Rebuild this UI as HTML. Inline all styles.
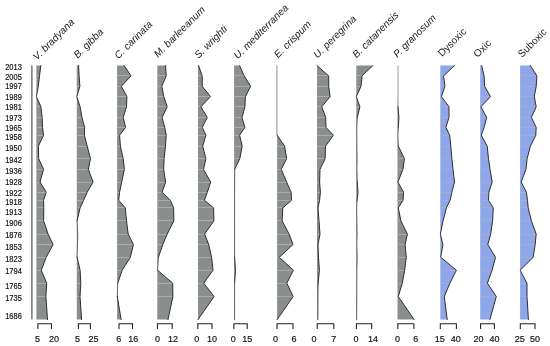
<!DOCTYPE html><html><head><meta charset="utf-8"><title>Foraminifera stratigraphy</title>
<style>html,body{margin:0;padding:0;background:#fff}body{width:550px;height:346px;overflow:hidden}svg{display:block}text{font-family:"Liberation Sans",Arial,sans-serif;fill:#1a1a1a}</style></head><body>
<svg width="550" height="346" viewBox="0 0 550 346">
<rect width="550" height="346" fill="#fff"/>
<line x1="31.9" y1="65.5" x2="31.9" y2="319.2" stroke="#444" stroke-width="1.1"/>
<text x="5.2" y="69.5" font-size="8.4" textLength="16.6" lengthAdjust="spacingAndGlyphs" stroke="#111" stroke-width="0.2">2013</text>
<text x="5.2" y="79.6" font-size="8.4" textLength="16.6" lengthAdjust="spacingAndGlyphs" stroke="#111" stroke-width="0.2">2005</text>
<text x="5.2" y="89.3" font-size="8.4" textLength="16.6" lengthAdjust="spacingAndGlyphs" stroke="#111" stroke-width="0.2">1997</text>
<text x="5.2" y="99.6" font-size="8.4" textLength="16.6" lengthAdjust="spacingAndGlyphs" stroke="#111" stroke-width="0.2">1989</text>
<text x="5.2" y="110.0" font-size="8.4" textLength="16.6" lengthAdjust="spacingAndGlyphs" stroke="#111" stroke-width="0.2">1981</text>
<text x="5.2" y="121.0" font-size="8.4" textLength="16.6" lengthAdjust="spacingAndGlyphs" stroke="#111" stroke-width="0.2">1973</text>
<text x="5.2" y="130.7" font-size="8.4" textLength="16.6" lengthAdjust="spacingAndGlyphs" stroke="#111" stroke-width="0.2">1965</text>
<text x="5.2" y="139.5" font-size="8.4" textLength="16.6" lengthAdjust="spacingAndGlyphs" stroke="#111" stroke-width="0.2">1958</text>
<text x="5.2" y="150.7" font-size="8.4" textLength="16.6" lengthAdjust="spacingAndGlyphs" stroke="#111" stroke-width="0.2">1950</text>
<text x="5.2" y="162.8" font-size="8.4" textLength="16.6" lengthAdjust="spacingAndGlyphs" stroke="#111" stroke-width="0.2">1942</text>
<text x="5.2" y="173.8" font-size="8.4" textLength="16.6" lengthAdjust="spacingAndGlyphs" stroke="#111" stroke-width="0.2">1936</text>
<text x="5.2" y="184.8" font-size="8.4" textLength="16.6" lengthAdjust="spacingAndGlyphs" stroke="#111" stroke-width="0.2">1928</text>
<text x="5.2" y="195.7" font-size="8.4" textLength="16.6" lengthAdjust="spacingAndGlyphs" stroke="#111" stroke-width="0.2">1922</text>
<text x="5.2" y="205.1" font-size="8.4" textLength="16.6" lengthAdjust="spacingAndGlyphs" stroke="#111" stroke-width="0.2">1918</text>
<text x="5.2" y="215.2" font-size="8.4" textLength="16.6" lengthAdjust="spacingAndGlyphs" stroke="#111" stroke-width="0.2">1913</text>
<text x="5.2" y="225.5" font-size="8.4" textLength="16.6" lengthAdjust="spacingAndGlyphs" stroke="#111" stroke-width="0.2">1906</text>
<text x="5.2" y="238.3" font-size="8.4" textLength="16.6" lengthAdjust="spacingAndGlyphs" stroke="#111" stroke-width="0.2">1876</text>
<text x="5.2" y="250.1" font-size="8.4" textLength="16.6" lengthAdjust="spacingAndGlyphs" stroke="#111" stroke-width="0.2">1853</text>
<text x="5.2" y="262.4" font-size="8.4" textLength="16.6" lengthAdjust="spacingAndGlyphs" stroke="#111" stroke-width="0.2">1823</text>
<text x="5.2" y="274.4" font-size="8.4" textLength="16.6" lengthAdjust="spacingAndGlyphs" stroke="#111" stroke-width="0.2">1794</text>
<text x="5.2" y="288.6" font-size="8.4" textLength="16.6" lengthAdjust="spacingAndGlyphs" stroke="#111" stroke-width="0.2">1765</text>
<text x="5.2" y="301.0" font-size="8.4" textLength="16.6" lengthAdjust="spacingAndGlyphs" stroke="#111" stroke-width="0.2">1735</text>
<text x="5.2" y="319.0" font-size="8.4" textLength="16.6" lengthAdjust="spacingAndGlyphs" stroke="#111" stroke-width="0.2">1686</text>
<g>
<path d="M36.4,65.6 L40.8,65.6 L39.5,75.9 L38.3,86.3 L36.4,96.6 L40.9,106.8 L42.2,117.5 L42.5,127.4 L43.6,135.2 L38.4,146.1 L38.7,158.7 L43.6,169.3 L40.0,182.0 L46.2,192.2 L43.6,200.3 L43.8,207.9 L43.6,220.8 L48.1,234.1 L53.1,244.5 L46.2,257.3 L41.3,270.2 L46.7,283.2 L45.9,296.5 L47.5,319.6 L36.4,319.6 Z" fill="#8a8f8e"/>
<line x1="36.4" y1="75.5" x2="39.0" y2="75.5" stroke="#a8adac" stroke-width="1"/>
<line x1="36.4" y1="86.5" x2="37.8" y2="86.5" stroke="#a8adac" stroke-width="1"/>
<line x1="36.4" y1="106.5" x2="40.4" y2="106.5" stroke="#a8adac" stroke-width="1"/>
<line x1="36.4" y1="117.5" x2="41.7" y2="117.5" stroke="#a8adac" stroke-width="1"/>
<line x1="36.4" y1="127.5" x2="42.0" y2="127.5" stroke="#a8adac" stroke-width="1"/>
<line x1="36.4" y1="135.5" x2="43.1" y2="135.5" stroke="#a8adac" stroke-width="1"/>
<line x1="36.4" y1="146.5" x2="37.9" y2="146.5" stroke="#a8adac" stroke-width="1"/>
<line x1="36.4" y1="158.5" x2="38.2" y2="158.5" stroke="#a8adac" stroke-width="1"/>
<line x1="36.4" y1="169.5" x2="43.1" y2="169.5" stroke="#a8adac" stroke-width="1"/>
<line x1="36.4" y1="182.5" x2="39.5" y2="182.5" stroke="#a8adac" stroke-width="1"/>
<line x1="36.4" y1="192.5" x2="45.7" y2="192.5" stroke="#a8adac" stroke-width="1"/>
<line x1="36.4" y1="200.5" x2="43.1" y2="200.5" stroke="#a8adac" stroke-width="1"/>
<line x1="36.4" y1="207.5" x2="43.3" y2="207.5" stroke="#a8adac" stroke-width="1"/>
<line x1="36.4" y1="220.5" x2="43.1" y2="220.5" stroke="#a8adac" stroke-width="1"/>
<line x1="36.4" y1="234.5" x2="47.6" y2="234.5" stroke="#a8adac" stroke-width="1"/>
<line x1="36.4" y1="244.5" x2="52.6" y2="244.5" stroke="#a8adac" stroke-width="1"/>
<line x1="36.4" y1="257.5" x2="45.7" y2="257.5" stroke="#a8adac" stroke-width="1"/>
<line x1="36.4" y1="270.5" x2="40.8" y2="270.5" stroke="#a8adac" stroke-width="1"/>
<line x1="36.4" y1="283.5" x2="46.2" y2="283.5" stroke="#a8adac" stroke-width="1"/>
<line x1="36.4" y1="296.5" x2="45.4" y2="296.5" stroke="#a8adac" stroke-width="1"/>
<path d="M40.8,65.6 L39.5,75.9 L38.3,86.3 L36.4,96.6 L40.9,106.8 L42.2,117.5 L42.5,127.4 L43.6,135.2 L38.4,146.1 L38.7,158.7 L43.6,169.3 L40.0,182.0 L46.2,192.2 L43.6,200.3 L43.8,207.9 L43.6,220.8 L48.1,234.1 L53.1,244.5 L46.2,257.3 L41.3,270.2 L46.7,283.2 L45.9,296.5 L47.5,319.6" fill="none" stroke="#2e2e2e" stroke-width="1.0" stroke-linejoin="round" stroke-linecap="round"/>
<path d="M37.9,329 V323.8 H51.5 V329" fill="none" stroke="#222" stroke-width="1.1"/>
<text x="37.4" y="342" font-size="9.0" text-anchor="middle" stroke="#111" stroke-width="0.2">5</text>
<text x="54.0" y="342" font-size="9.0" text-anchor="middle" stroke="#111" stroke-width="0.2">20</text>
<text transform="translate(37.0,60.7) rotate(-45)" font-size="10.1" font-style="italic">V. bradyana</text>
</g>
<g>
<path d="M76.8,65.6 L78.6,65.6 L79.1,75.9 L79.9,86.3 L76.8,96.6 L80.1,106.8 L82.0,117.5 L84.6,127.4 L84.4,135.2 L87.2,146.1 L90.5,158.7 L88.3,169.3 L93.1,182.0 L87.2,192.2 L83.6,200.3 L80.1,207.9 L77.1,220.8 L77.8,234.1 L77.5,244.5 L77.1,257.3 L80.1,270.2 L80.8,283.2 L80.0,296.5 L81.6,319.6 L76.8,319.6 Z" fill="#8a8f8e"/>
<line x1="76.8" y1="75.5" x2="78.6" y2="75.5" stroke="#a8adac" stroke-width="1"/>
<line x1="76.8" y1="86.5" x2="79.4" y2="86.5" stroke="#a8adac" stroke-width="1"/>
<line x1="76.8" y1="106.5" x2="79.6" y2="106.5" stroke="#a8adac" stroke-width="1"/>
<line x1="76.8" y1="117.5" x2="81.5" y2="117.5" stroke="#a8adac" stroke-width="1"/>
<line x1="76.8" y1="127.5" x2="84.1" y2="127.5" stroke="#a8adac" stroke-width="1"/>
<line x1="76.8" y1="135.5" x2="83.9" y2="135.5" stroke="#a8adac" stroke-width="1"/>
<line x1="76.8" y1="146.5" x2="86.7" y2="146.5" stroke="#a8adac" stroke-width="1"/>
<line x1="76.8" y1="158.5" x2="90.0" y2="158.5" stroke="#a8adac" stroke-width="1"/>
<line x1="76.8" y1="169.5" x2="87.8" y2="169.5" stroke="#a8adac" stroke-width="1"/>
<line x1="76.8" y1="182.5" x2="92.6" y2="182.5" stroke="#a8adac" stroke-width="1"/>
<line x1="76.8" y1="192.5" x2="86.7" y2="192.5" stroke="#a8adac" stroke-width="1"/>
<line x1="76.8" y1="200.5" x2="83.1" y2="200.5" stroke="#a8adac" stroke-width="1"/>
<line x1="76.8" y1="207.5" x2="79.6" y2="207.5" stroke="#a8adac" stroke-width="1"/>
<line x1="76.8" y1="270.5" x2="79.6" y2="270.5" stroke="#a8adac" stroke-width="1"/>
<line x1="76.8" y1="283.5" x2="80.3" y2="283.5" stroke="#a8adac" stroke-width="1"/>
<line x1="76.8" y1="296.5" x2="79.5" y2="296.5" stroke="#a8adac" stroke-width="1"/>
<path d="M78.6,65.6 L79.1,75.9 L79.9,86.3 L76.8,96.6 L80.1,106.8 L82.0,117.5 L84.6,127.4 L84.4,135.2 L87.2,146.1 L90.5,158.7 L88.3,169.3 L93.1,182.0 L87.2,192.2 L83.6,200.3 L80.1,207.9 L77.1,220.8" fill="none" stroke="#2e2e2e" stroke-width="1.0" stroke-linejoin="round" stroke-linecap="round"/>
<path d="M77.1,220.8 L77.8,234.1 L77.5,244.5 L77.1,257.3" fill="none" stroke="#505050" stroke-width="0.85" stroke-linejoin="round" stroke-linecap="round"/>
<path d="M77.1,257.3 L80.1,270.2 L80.8,283.2 L80.0,296.5 L81.6,319.6" fill="none" stroke="#2e2e2e" stroke-width="1.0" stroke-linejoin="round" stroke-linecap="round"/>
<path d="M78.4,329 V323.8 H90.4 V329" fill="none" stroke="#222" stroke-width="1.1"/>
<text x="77.6" y="342" font-size="9.0" text-anchor="middle" stroke="#111" stroke-width="0.2">5</text>
<text x="93.6" y="342" font-size="9.0" text-anchor="middle" stroke="#111" stroke-width="0.2">25</text>
<text transform="translate(77.8,58.8) rotate(-45)" font-size="10.1" font-style="italic">B. gibba</text>
</g>
<g>
<path d="M117.1,65.6 L124.1,65.6 L131.0,75.9 L121.3,86.3 L126.9,96.6 L126.5,106.8 L123.2,117.5 L125.6,127.4 L119.6,135.2 L120.4,146.1 L123.2,158.7 L124.4,169.3 L121.7,182.0 L119.6,192.2 L118.7,200.3 L125.3,207.9 L126.5,220.8 L128.2,234.1 L133.4,244.5 L130.4,257.3 L122.2,270.2 L117.7,283.2 L117.3,296.5 L121.1,319.6 L117.1,319.6 Z" fill="#8a8f8e"/>
<line x1="117.1" y1="75.5" x2="130.5" y2="75.5" stroke="#a8adac" stroke-width="1"/>
<line x1="117.1" y1="86.5" x2="120.8" y2="86.5" stroke="#a8adac" stroke-width="1"/>
<line x1="117.1" y1="96.5" x2="126.4" y2="96.5" stroke="#a8adac" stroke-width="1"/>
<line x1="117.1" y1="106.5" x2="126.0" y2="106.5" stroke="#a8adac" stroke-width="1"/>
<line x1="117.1" y1="117.5" x2="122.7" y2="117.5" stroke="#a8adac" stroke-width="1"/>
<line x1="117.1" y1="127.5" x2="125.1" y2="127.5" stroke="#a8adac" stroke-width="1"/>
<line x1="117.1" y1="135.5" x2="119.1" y2="135.5" stroke="#a8adac" stroke-width="1"/>
<line x1="117.1" y1="146.5" x2="119.9" y2="146.5" stroke="#a8adac" stroke-width="1"/>
<line x1="117.1" y1="158.5" x2="122.7" y2="158.5" stroke="#a8adac" stroke-width="1"/>
<line x1="117.1" y1="169.5" x2="123.9" y2="169.5" stroke="#a8adac" stroke-width="1"/>
<line x1="117.1" y1="182.5" x2="121.2" y2="182.5" stroke="#a8adac" stroke-width="1"/>
<line x1="117.1" y1="192.5" x2="119.1" y2="192.5" stroke="#a8adac" stroke-width="1"/>
<line x1="117.1" y1="200.5" x2="118.2" y2="200.5" stroke="#a8adac" stroke-width="1"/>
<line x1="117.1" y1="207.5" x2="124.8" y2="207.5" stroke="#a8adac" stroke-width="1"/>
<line x1="117.1" y1="220.5" x2="126.0" y2="220.5" stroke="#a8adac" stroke-width="1"/>
<line x1="117.1" y1="234.5" x2="127.7" y2="234.5" stroke="#a8adac" stroke-width="1"/>
<line x1="117.1" y1="244.5" x2="132.9" y2="244.5" stroke="#a8adac" stroke-width="1"/>
<line x1="117.1" y1="257.5" x2="129.9" y2="257.5" stroke="#a8adac" stroke-width="1"/>
<line x1="117.1" y1="270.5" x2="121.7" y2="270.5" stroke="#a8adac" stroke-width="1"/>
<path d="M124.1,65.6 L131.0,75.9 L121.3,86.3 L126.9,96.6 L126.5,106.8 L123.2,117.5 L125.6,127.4 L119.6,135.2 L120.4,146.1 L123.2,158.7 L124.4,169.3 L121.7,182.0 L119.6,192.2 L118.7,200.3 L125.3,207.9 L126.5,220.8 L128.2,234.1 L133.4,244.5 L130.4,257.3 L122.2,270.2 L117.7,283.2" fill="none" stroke="#2e2e2e" stroke-width="1.0" stroke-linejoin="round" stroke-linecap="round"/>
<path d="M117.7,283.2 L117.3,296.5" fill="none" stroke="#505050" stroke-width="0.85" stroke-linejoin="round" stroke-linecap="round"/>
<path d="M117.3,296.5 L121.1,319.6" fill="none" stroke="#2e2e2e" stroke-width="1.0" stroke-linejoin="round" stroke-linecap="round"/>
<path d="M119.0,329 V323.8 H132.5 V329" fill="none" stroke="#222" stroke-width="1.1"/>
<text x="118.7" y="342" font-size="9.0" text-anchor="middle" stroke="#111" stroke-width="0.2">6</text>
<text x="133.2" y="342" font-size="9.0" text-anchor="middle" stroke="#111" stroke-width="0.2">16</text>
<text transform="translate(118.4,59.5) rotate(-45)" font-size="10.1" font-style="italic">C. carinata</text>
</g>
<g>
<path d="M157.3,65.6 L165.6,65.6 L166.2,75.9 L161.8,86.3 L163.8,96.6 L167.2,106.8 L162.1,117.5 L164.7,127.4 L166.2,135.2 L165.5,146.1 L164.1,158.7 L163.7,169.3 L165.6,182.0 L162.2,192.2 L170.4,200.3 L173.6,207.9 L173.9,220.8 L167.2,234.1 L162.8,244.5 L158.4,257.3 L157.6,270.2 L172.7,283.2 L172.9,296.5 L168.0,319.6 L157.3,319.6 Z" fill="#8a8f8e"/>
<line x1="157.3" y1="75.5" x2="165.7" y2="75.5" stroke="#a8adac" stroke-width="1"/>
<line x1="157.3" y1="86.5" x2="161.3" y2="86.5" stroke="#a8adac" stroke-width="1"/>
<line x1="157.3" y1="96.5" x2="163.3" y2="96.5" stroke="#a8adac" stroke-width="1"/>
<line x1="157.3" y1="106.5" x2="166.7" y2="106.5" stroke="#a8adac" stroke-width="1"/>
<line x1="157.3" y1="117.5" x2="161.6" y2="117.5" stroke="#a8adac" stroke-width="1"/>
<line x1="157.3" y1="127.5" x2="164.2" y2="127.5" stroke="#a8adac" stroke-width="1"/>
<line x1="157.3" y1="135.5" x2="165.7" y2="135.5" stroke="#a8adac" stroke-width="1"/>
<line x1="157.3" y1="146.5" x2="165.0" y2="146.5" stroke="#a8adac" stroke-width="1"/>
<line x1="157.3" y1="158.5" x2="163.6" y2="158.5" stroke="#a8adac" stroke-width="1"/>
<line x1="157.3" y1="169.5" x2="163.2" y2="169.5" stroke="#a8adac" stroke-width="1"/>
<line x1="157.3" y1="182.5" x2="165.1" y2="182.5" stroke="#a8adac" stroke-width="1"/>
<line x1="157.3" y1="192.5" x2="161.7" y2="192.5" stroke="#a8adac" stroke-width="1"/>
<line x1="157.3" y1="200.5" x2="169.9" y2="200.5" stroke="#a8adac" stroke-width="1"/>
<line x1="157.3" y1="207.5" x2="173.1" y2="207.5" stroke="#a8adac" stroke-width="1"/>
<line x1="157.3" y1="220.5" x2="173.4" y2="220.5" stroke="#a8adac" stroke-width="1"/>
<line x1="157.3" y1="234.5" x2="166.7" y2="234.5" stroke="#a8adac" stroke-width="1"/>
<line x1="157.3" y1="244.5" x2="162.3" y2="244.5" stroke="#a8adac" stroke-width="1"/>
<line x1="157.3" y1="283.5" x2="172.2" y2="283.5" stroke="#a8adac" stroke-width="1"/>
<line x1="157.3" y1="296.5" x2="172.4" y2="296.5" stroke="#a8adac" stroke-width="1"/>
<path d="M165.6,65.6 L166.2,75.9 L161.8,86.3 L163.8,96.6 L167.2,106.8 L162.1,117.5 L164.7,127.4 L166.2,135.2 L165.5,146.1 L164.1,158.7 L163.7,169.3 L165.6,182.0 L162.2,192.2 L170.4,200.3 L173.6,207.9 L173.9,220.8 L167.2,234.1 L162.8,244.5 L158.4,257.3" fill="none" stroke="#2e2e2e" stroke-width="1.0" stroke-linejoin="round" stroke-linecap="round"/>
<path d="M158.4,257.3 L157.6,270.2" fill="none" stroke="#505050" stroke-width="0.85" stroke-linejoin="round" stroke-linecap="round"/>
<path d="M157.6,270.2 L172.7,283.2 L172.9,296.5 L168.0,319.6" fill="none" stroke="#2e2e2e" stroke-width="1.0" stroke-linejoin="round" stroke-linecap="round"/>
<path d="M157.5,329 V323.8 H172.2 V329" fill="none" stroke="#222" stroke-width="1.1"/>
<text x="157.5" y="342" font-size="9.0" text-anchor="middle" stroke="#111" stroke-width="0.2">0</text>
<text x="173.0" y="342" font-size="9.0" text-anchor="middle" stroke="#111" stroke-width="0.2">12</text>
<text transform="translate(158.0,58.0) rotate(-45)" font-size="10.1" font-style="italic">M. barleeanum</text>
</g>
<g>
<path d="M198.0,65.6 L198.6,65.6 L202.2,75.9 L202.2,86.3 L210.5,96.6 L200.9,106.8 L207.3,117.5 L202.3,127.4 L205.9,135.2 L202.7,146.1 L205.9,158.7 L203.5,169.3 L210.7,182.0 L207.3,192.2 L204.4,200.3 L213.6,207.9 L213.9,220.8 L204.6,234.1 L208.7,244.5 L211.6,257.3 L213.0,270.2 L203.7,283.2 L214.1,296.5 L198.0,319.6 L198.0,319.6 Z" fill="#8a8f8e"/>
<line x1="198.0" y1="75.5" x2="201.7" y2="75.5" stroke="#a8adac" stroke-width="1"/>
<line x1="198.0" y1="86.5" x2="201.7" y2="86.5" stroke="#a8adac" stroke-width="1"/>
<line x1="198.0" y1="96.5" x2="210.0" y2="96.5" stroke="#a8adac" stroke-width="1"/>
<line x1="198.0" y1="106.5" x2="200.4" y2="106.5" stroke="#a8adac" stroke-width="1"/>
<line x1="198.0" y1="117.5" x2="206.8" y2="117.5" stroke="#a8adac" stroke-width="1"/>
<line x1="198.0" y1="127.5" x2="201.8" y2="127.5" stroke="#a8adac" stroke-width="1"/>
<line x1="198.0" y1="135.5" x2="205.4" y2="135.5" stroke="#a8adac" stroke-width="1"/>
<line x1="198.0" y1="146.5" x2="202.2" y2="146.5" stroke="#a8adac" stroke-width="1"/>
<line x1="198.0" y1="158.5" x2="205.4" y2="158.5" stroke="#a8adac" stroke-width="1"/>
<line x1="198.0" y1="169.5" x2="203.0" y2="169.5" stroke="#a8adac" stroke-width="1"/>
<line x1="198.0" y1="182.5" x2="210.2" y2="182.5" stroke="#a8adac" stroke-width="1"/>
<line x1="198.0" y1="192.5" x2="206.8" y2="192.5" stroke="#a8adac" stroke-width="1"/>
<line x1="198.0" y1="200.5" x2="203.9" y2="200.5" stroke="#a8adac" stroke-width="1"/>
<line x1="198.0" y1="207.5" x2="213.1" y2="207.5" stroke="#a8adac" stroke-width="1"/>
<line x1="198.0" y1="220.5" x2="213.4" y2="220.5" stroke="#a8adac" stroke-width="1"/>
<line x1="198.0" y1="234.5" x2="204.1" y2="234.5" stroke="#a8adac" stroke-width="1"/>
<line x1="198.0" y1="244.5" x2="208.2" y2="244.5" stroke="#a8adac" stroke-width="1"/>
<line x1="198.0" y1="257.5" x2="211.1" y2="257.5" stroke="#a8adac" stroke-width="1"/>
<line x1="198.0" y1="270.5" x2="212.5" y2="270.5" stroke="#a8adac" stroke-width="1"/>
<line x1="198.0" y1="283.5" x2="203.2" y2="283.5" stroke="#a8adac" stroke-width="1"/>
<line x1="198.0" y1="296.5" x2="213.6" y2="296.5" stroke="#a8adac" stroke-width="1"/>
<path d="M198.6,65.6 L202.2,75.9 L202.2,86.3 L210.5,96.6 L200.9,106.8 L207.3,117.5 L202.3,127.4 L205.9,135.2 L202.7,146.1 L205.9,158.7 L203.5,169.3 L210.7,182.0 L207.3,192.2 L204.4,200.3 L213.6,207.9 L213.9,220.8 L204.6,234.1 L208.7,244.5 L211.6,257.3 L213.0,270.2 L203.7,283.2 L214.1,296.5 L198.0,319.6" fill="none" stroke="#2e2e2e" stroke-width="1.0" stroke-linejoin="round" stroke-linecap="round"/>
<path d="M197.8,329 V323.8 H212.0 V329" fill="none" stroke="#222" stroke-width="1.1"/>
<text x="196.7" y="342" font-size="9.0" text-anchor="middle" stroke="#111" stroke-width="0.2">0</text>
<text x="212.0" y="342" font-size="9.0" text-anchor="middle" stroke="#111" stroke-width="0.2">10</text>
<text transform="translate(198.5,59.0) rotate(-45)" font-size="10.1" font-style="italic">S. wrighti</text>
</g>
<g>
<path d="M234.1,65.6 L239.6,65.6 L244.2,75.9 L250.7,86.3 L245.4,96.6 L244.9,106.8 L242.0,117.5 L244.9,127.4 L239.6,135.2 L242.2,146.1 L239.8,158.7 L234.7,169.3 L234.7,182.0 L234.6,192.2 L234.6,200.3 L234.6,207.9 L234.6,220.8 L234.6,234.1 L234.6,244.5 L234.6,257.3 L235.5,270.2 L234.6,283.2 L234.6,296.5 L234.6,319.6 L234.1,319.6 Z" fill="#8a8f8e"/>
<line x1="234.1" y1="75.5" x2="243.7" y2="75.5" stroke="#a8adac" stroke-width="1"/>
<line x1="234.1" y1="86.5" x2="250.2" y2="86.5" stroke="#a8adac" stroke-width="1"/>
<line x1="234.1" y1="96.5" x2="244.9" y2="96.5" stroke="#a8adac" stroke-width="1"/>
<line x1="234.1" y1="106.5" x2="244.4" y2="106.5" stroke="#a8adac" stroke-width="1"/>
<line x1="234.1" y1="117.5" x2="241.5" y2="117.5" stroke="#a8adac" stroke-width="1"/>
<line x1="234.1" y1="127.5" x2="244.4" y2="127.5" stroke="#a8adac" stroke-width="1"/>
<line x1="234.1" y1="135.5" x2="239.1" y2="135.5" stroke="#a8adac" stroke-width="1"/>
<line x1="234.1" y1="146.5" x2="241.7" y2="146.5" stroke="#a8adac" stroke-width="1"/>
<line x1="234.1" y1="158.5" x2="239.3" y2="158.5" stroke="#a8adac" stroke-width="1"/>
<line x1="234.1" y1="270.5" x2="235.0" y2="270.5" stroke="#a8adac" stroke-width="1"/>
<path d="M239.6,65.6 L244.2,75.9 L250.7,86.3 L245.4,96.6 L244.9,106.8 L242.0,117.5 L244.9,127.4 L239.6,135.2 L242.2,146.1 L239.8,158.7 L234.7,169.3" fill="none" stroke="#2e2e2e" stroke-width="1.0" stroke-linejoin="round" stroke-linecap="round"/>
<path d="M234.7,169.3 L234.7,182.0 L234.6,192.2 L234.6,200.3 L234.6,207.9 L234.6,220.8 L234.6,234.1 L234.6,244.5 L234.6,257.3" fill="none" stroke="#505050" stroke-width="0.85" stroke-linejoin="round" stroke-linecap="round"/>
<path d="M234.6,257.3 L235.5,270.2 L234.6,283.2" fill="none" stroke="#2e2e2e" stroke-width="1.0" stroke-linejoin="round" stroke-linecap="round"/>
<path d="M234.6,283.2 L234.6,296.5 L234.6,319.6" fill="none" stroke="#505050" stroke-width="0.85" stroke-linejoin="round" stroke-linecap="round"/>
<path d="M233.9,329 V323.8 H247.2 V329" fill="none" stroke="#222" stroke-width="1.1"/>
<text x="233.3" y="342" font-size="9.0" text-anchor="middle" stroke="#111" stroke-width="0.2">0</text>
<text x="247.2" y="342" font-size="9.0" text-anchor="middle" stroke="#111" stroke-width="0.2">15</text>
<text transform="translate(237.8,59.6) rotate(-45)" font-size="10.1" font-style="italic">U. mediterranea</text>
</g>
<g>
<line x1="276.9" y1="65.3" x2="276.9" y2="135.2" stroke="#b2b2b2" stroke-width="1.5"/>
<path d="M277.1,65.6 L277.1,65.6 L277.1,75.9 L277.1,86.3 L277.1,96.6 L277.1,106.8 L277.1,117.5 L277.1,127.4 L277.1,135.2 L284.6,146.1 L286.6,158.7 L281.3,169.3 L286.6,182.0 L291.1,192.2 L291.5,200.3 L282.8,207.9 L282.1,220.8 L289.1,234.1 L293.0,244.5 L279.3,257.3 L293.4,270.2 L286.8,283.2 L293.2,296.5 L277.1,319.6 L277.1,319.6 Z" fill="#8a8f8e"/>
<line x1="277.1" y1="146.5" x2="284.1" y2="146.5" stroke="#a8adac" stroke-width="1"/>
<line x1="277.1" y1="158.5" x2="286.1" y2="158.5" stroke="#a8adac" stroke-width="1"/>
<line x1="277.1" y1="169.5" x2="280.8" y2="169.5" stroke="#a8adac" stroke-width="1"/>
<line x1="277.1" y1="182.5" x2="286.1" y2="182.5" stroke="#a8adac" stroke-width="1"/>
<line x1="277.1" y1="192.5" x2="290.6" y2="192.5" stroke="#a8adac" stroke-width="1"/>
<line x1="277.1" y1="200.5" x2="291.0" y2="200.5" stroke="#a8adac" stroke-width="1"/>
<line x1="277.1" y1="207.5" x2="282.3" y2="207.5" stroke="#a8adac" stroke-width="1"/>
<line x1="277.1" y1="220.5" x2="281.6" y2="220.5" stroke="#a8adac" stroke-width="1"/>
<line x1="277.1" y1="234.5" x2="288.6" y2="234.5" stroke="#a8adac" stroke-width="1"/>
<line x1="277.1" y1="244.5" x2="292.5" y2="244.5" stroke="#a8adac" stroke-width="1"/>
<line x1="277.1" y1="257.5" x2="278.8" y2="257.5" stroke="#a8adac" stroke-width="1"/>
<line x1="277.1" y1="270.5" x2="292.9" y2="270.5" stroke="#a8adac" stroke-width="1"/>
<line x1="277.1" y1="283.5" x2="286.3" y2="283.5" stroke="#a8adac" stroke-width="1"/>
<line x1="277.1" y1="296.5" x2="292.7" y2="296.5" stroke="#a8adac" stroke-width="1"/>
<path d="M277.1,135.2 L284.6,146.1 L286.6,158.7 L281.3,169.3 L286.6,182.0 L291.1,192.2 L291.5,200.3 L282.8,207.9 L282.1,220.8 L289.1,234.1 L293.0,244.5 L279.3,257.3 L293.4,270.2 L286.8,283.2 L293.2,296.5 L277.1,319.6" fill="none" stroke="#2e2e2e" stroke-width="1.0" stroke-linejoin="round" stroke-linecap="round"/>
<path d="M277.0,329 V323.8 H293.0 V329" fill="none" stroke="#222" stroke-width="1.1"/>
<text x="275.4" y="342" font-size="9.0" text-anchor="middle" stroke="#111" stroke-width="0.2">0</text>
<text x="294.0" y="342" font-size="9.0" text-anchor="middle" stroke="#111" stroke-width="0.2">6</text>
<text transform="translate(278.0,58.5) rotate(-45)" font-size="10.1" font-style="italic">E. crispum</text>
</g>
<g>
<path d="M317.0,65.6 L317.0,65.6 L328.7,75.9 L328.7,86.3 L330.1,96.6 L321.8,106.8 L325.7,117.5 L326.0,127.4 L333.4,135.2 L325.5,146.1 L325.1,158.7 L320.0,169.3 L319.6,182.0 L320.4,192.2 L319.6,200.3 L318.0,207.9 L319.0,220.8 L320.0,234.1 L318.0,244.5 L318.5,257.3 L319.4,270.2 L318.2,283.2 L318.0,296.5 L317.9,319.6 L317.0,319.6 Z" fill="#8a8f8e"/>
<line x1="317.0" y1="75.5" x2="328.2" y2="75.5" stroke="#a8adac" stroke-width="1"/>
<line x1="317.0" y1="86.5" x2="328.2" y2="86.5" stroke="#a8adac" stroke-width="1"/>
<line x1="317.0" y1="96.5" x2="329.6" y2="96.5" stroke="#a8adac" stroke-width="1"/>
<line x1="317.0" y1="106.5" x2="321.3" y2="106.5" stroke="#a8adac" stroke-width="1"/>
<line x1="317.0" y1="117.5" x2="325.2" y2="117.5" stroke="#a8adac" stroke-width="1"/>
<line x1="317.0" y1="127.5" x2="325.5" y2="127.5" stroke="#a8adac" stroke-width="1"/>
<line x1="317.0" y1="135.5" x2="332.9" y2="135.5" stroke="#a8adac" stroke-width="1"/>
<line x1="317.0" y1="146.5" x2="325.0" y2="146.5" stroke="#a8adac" stroke-width="1"/>
<line x1="317.0" y1="158.5" x2="324.6" y2="158.5" stroke="#a8adac" stroke-width="1"/>
<line x1="317.0" y1="169.5" x2="319.5" y2="169.5" stroke="#a8adac" stroke-width="1"/>
<line x1="317.0" y1="182.5" x2="319.1" y2="182.5" stroke="#a8adac" stroke-width="1"/>
<line x1="317.0" y1="192.5" x2="319.9" y2="192.5" stroke="#a8adac" stroke-width="1"/>
<line x1="317.0" y1="200.5" x2="319.1" y2="200.5" stroke="#a8adac" stroke-width="1"/>
<line x1="317.0" y1="220.5" x2="318.5" y2="220.5" stroke="#a8adac" stroke-width="1"/>
<line x1="317.0" y1="234.5" x2="319.5" y2="234.5" stroke="#a8adac" stroke-width="1"/>
<line x1="317.0" y1="257.5" x2="318.0" y2="257.5" stroke="#a8adac" stroke-width="1"/>
<line x1="317.0" y1="270.5" x2="318.9" y2="270.5" stroke="#a8adac" stroke-width="1"/>
<path d="M317.0,65.6 L328.7,75.9 L328.7,86.3 L330.1,96.6 L321.8,106.8 L325.7,117.5 L326.0,127.4 L333.4,135.2 L325.5,146.1 L325.1,158.7 L320.0,169.3 L319.6,182.0 L320.4,192.2 L319.6,200.3 L318.0,207.9 L319.0,220.8 L320.0,234.1 L318.0,244.5 L318.5,257.3 L319.4,270.2 L318.2,283.2" fill="none" stroke="#2e2e2e" stroke-width="1.0" stroke-linejoin="round" stroke-linecap="round"/>
<path d="M318.2,283.2 L318.0,296.5 L317.9,319.6" fill="none" stroke="#505050" stroke-width="0.85" stroke-linejoin="round" stroke-linecap="round"/>
<path d="M317.2,329 V323.8 H333.8 V329" fill="none" stroke="#222" stroke-width="1.1"/>
<text x="313.9" y="342" font-size="9.0" text-anchor="middle" stroke="#111" stroke-width="0.2">0</text>
<text x="333.8" y="342" font-size="9.0" text-anchor="middle" stroke="#111" stroke-width="0.2">7</text>
<text transform="translate(317.6,58.7) rotate(-45)" font-size="10.1" font-style="italic">U. peregrina</text>
</g>
<g>
<path d="M356.3,65.6 L372.9,65.6 L362.0,75.9 L361.0,86.3 L356.3,96.6 L359.9,106.8 L357.3,117.5 L356.8,127.4 L356.8,135.2 L356.9,146.1 L357.1,158.7 L356.9,169.3 L357.3,182.0 L358.0,192.2 L357.1,200.3 L356.7,207.9 L356.9,220.8 L357.1,234.1 L356.8,244.5 L357.2,257.3 L356.9,270.2 L356.8,283.2 L356.8,296.5 L356.7,319.6 L356.3,319.6 Z" fill="#8a8f8e"/>
<line x1="356.3" y1="75.5" x2="361.5" y2="75.5" stroke="#a8adac" stroke-width="1"/>
<line x1="356.3" y1="86.5" x2="360.5" y2="86.5" stroke="#a8adac" stroke-width="1"/>
<line x1="356.3" y1="106.5" x2="359.4" y2="106.5" stroke="#a8adac" stroke-width="1"/>
<line x1="356.3" y1="192.5" x2="357.5" y2="192.5" stroke="#a8adac" stroke-width="1"/>
<path d="M372.9,65.6 L362.0,75.9 L361.0,86.3 L356.3,96.6 L359.9,106.8 L357.3,117.5" fill="none" stroke="#2e2e2e" stroke-width="1.0" stroke-linejoin="round" stroke-linecap="round"/>
<path d="M357.3,117.5 L356.8,127.4 L356.8,135.2 L356.9,146.1 L357.1,158.7 L356.9,169.3 L357.3,182.0" fill="none" stroke="#505050" stroke-width="0.85" stroke-linejoin="round" stroke-linecap="round"/>
<path d="M357.3,182.0 L358.0,192.2 L357.1,200.3" fill="none" stroke="#2e2e2e" stroke-width="1.0" stroke-linejoin="round" stroke-linecap="round"/>
<path d="M357.1,200.3 L356.7,207.9 L356.9,220.8 L357.1,234.1 L356.8,244.5 L357.2,257.3 L356.9,270.2 L356.8,283.2 L356.8,296.5 L356.7,319.6" fill="none" stroke="#505050" stroke-width="0.85" stroke-linejoin="round" stroke-linecap="round"/>
<path d="M356.4,329 V323.8 H371.7 V329" fill="none" stroke="#222" stroke-width="1.1"/>
<text x="356.0" y="342" font-size="9.0" text-anchor="middle" stroke="#111" stroke-width="0.2">0</text>
<text x="373.0" y="342" font-size="9.0" text-anchor="middle" stroke="#111" stroke-width="0.2">14</text>
<text transform="translate(356.4,58.5) rotate(-45)" font-size="10.1" font-style="italic">B. catanensis</text>
</g>
<g>
<line x1="398.0" y1="65.3" x2="398.0" y2="106.8" stroke="#9a9a9a" stroke-width="1.0"/>
<path d="M397.5,65.6 L397.5,65.6 L397.5,75.9 L397.5,86.3 L397.5,96.6 L398.0,106.8 L398.9,117.5 L398.3,127.4 L397.9,135.2 L398.3,146.1 L404.4,158.7 L403.0,169.3 L397.9,182.0 L403.6,192.2 L403.0,200.3 L398.3,207.9 L400.9,220.8 L407.4,234.1 L405.1,244.5 L406.3,257.3 L404.7,270.2 L402.3,283.2 L398.3,296.5 L414.1,319.6 L397.5,319.6 Z" fill="#8a8f8e"/>
<line x1="397.5" y1="117.5" x2="398.4" y2="117.5" stroke="#a8adac" stroke-width="1"/>
<line x1="397.5" y1="158.5" x2="403.9" y2="158.5" stroke="#a8adac" stroke-width="1"/>
<line x1="397.5" y1="169.5" x2="402.5" y2="169.5" stroke="#a8adac" stroke-width="1"/>
<line x1="397.5" y1="192.5" x2="403.1" y2="192.5" stroke="#a8adac" stroke-width="1"/>
<line x1="397.5" y1="200.5" x2="402.5" y2="200.5" stroke="#a8adac" stroke-width="1"/>
<line x1="397.5" y1="220.5" x2="400.4" y2="220.5" stroke="#a8adac" stroke-width="1"/>
<line x1="397.5" y1="234.5" x2="406.9" y2="234.5" stroke="#a8adac" stroke-width="1"/>
<line x1="397.5" y1="244.5" x2="404.6" y2="244.5" stroke="#a8adac" stroke-width="1"/>
<line x1="397.5" y1="257.5" x2="405.8" y2="257.5" stroke="#a8adac" stroke-width="1"/>
<line x1="397.5" y1="270.5" x2="404.2" y2="270.5" stroke="#a8adac" stroke-width="1"/>
<line x1="397.5" y1="283.5" x2="401.8" y2="283.5" stroke="#a8adac" stroke-width="1"/>
<path d="M398.0,106.8 L398.9,117.5 L398.3,127.4" fill="none" stroke="#2e2e2e" stroke-width="1.0" stroke-linejoin="round" stroke-linecap="round"/>
<path d="M398.3,127.4 L397.9,135.2 L398.3,146.1" fill="none" stroke="#505050" stroke-width="0.85" stroke-linejoin="round" stroke-linecap="round"/>
<path d="M398.3,146.1 L404.4,158.7 L403.0,169.3 L397.9,182.0 L403.6,192.2 L403.0,200.3 L398.3,207.9 L400.9,220.8 L407.4,234.1 L405.1,244.5 L406.3,257.3 L404.7,270.2 L402.3,283.2 L398.3,296.5 L414.1,319.6" fill="none" stroke="#2e2e2e" stroke-width="1.0" stroke-linejoin="round" stroke-linecap="round"/>
<path d="M397.8,329 V323.8 H413.9 V329" fill="none" stroke="#222" stroke-width="1.1"/>
<text x="397.4" y="342" font-size="9.0" text-anchor="middle" stroke="#111" stroke-width="0.2">0</text>
<text x="415.8" y="342" font-size="9.0" text-anchor="middle" stroke="#111" stroke-width="0.2">6</text>
<text transform="translate(397.2,58.0) rotate(-45)" font-size="10.1" font-style="italic">P. granosum</text>
</g>
<g>
<path d="M440.3,65.6 L454.5,65.6 L443.6,75.9 L444.9,86.3 L441.4,96.6 L449.0,106.8 L449.0,117.5 L445.9,127.4 L449.7,135.2 L450.8,146.1 L451.9,158.7 L453.0,169.3 L454.5,182.0 L451.9,192.2 L450.1,200.3 L446.4,207.9 L443.1,220.8 L440.3,234.1 L442.9,244.5 L440.7,257.3 L456.4,270.2 L449.9,283.2 L444.3,296.5 L447.2,319.6 L440.3,319.6 Z" fill="#8ea6ea"/>
<line x1="440.3" y1="75.5" x2="443.1" y2="75.5" stroke="#a6afca" stroke-width="1"/>
<line x1="440.3" y1="86.5" x2="444.4" y2="86.5" stroke="#a6afca" stroke-width="1"/>
<line x1="440.3" y1="106.5" x2="448.5" y2="106.5" stroke="#a6afca" stroke-width="1"/>
<line x1="440.3" y1="117.5" x2="448.5" y2="117.5" stroke="#a6afca" stroke-width="1"/>
<line x1="440.3" y1="127.5" x2="445.4" y2="127.5" stroke="#a6afca" stroke-width="1"/>
<line x1="440.3" y1="135.5" x2="449.2" y2="135.5" stroke="#a6afca" stroke-width="1"/>
<line x1="440.3" y1="146.5" x2="450.3" y2="146.5" stroke="#a6afca" stroke-width="1"/>
<line x1="440.3" y1="158.5" x2="451.4" y2="158.5" stroke="#a6afca" stroke-width="1"/>
<line x1="440.3" y1="169.5" x2="452.5" y2="169.5" stroke="#a6afca" stroke-width="1"/>
<line x1="440.3" y1="182.5" x2="454.0" y2="182.5" stroke="#a6afca" stroke-width="1"/>
<line x1="440.3" y1="192.5" x2="451.4" y2="192.5" stroke="#a6afca" stroke-width="1"/>
<line x1="440.3" y1="200.5" x2="449.6" y2="200.5" stroke="#a6afca" stroke-width="1"/>
<line x1="440.3" y1="207.5" x2="445.9" y2="207.5" stroke="#a6afca" stroke-width="1"/>
<line x1="440.3" y1="220.5" x2="442.6" y2="220.5" stroke="#a6afca" stroke-width="1"/>
<line x1="440.3" y1="244.5" x2="442.4" y2="244.5" stroke="#a6afca" stroke-width="1"/>
<line x1="440.3" y1="270.5" x2="455.9" y2="270.5" stroke="#a6afca" stroke-width="1"/>
<line x1="440.3" y1="283.5" x2="449.4" y2="283.5" stroke="#a6afca" stroke-width="1"/>
<line x1="440.3" y1="296.5" x2="443.8" y2="296.5" stroke="#a6afca" stroke-width="1"/>
<path d="M454.5,65.6 L443.6,75.9 L444.9,86.3 L441.4,96.6 L449.0,106.8 L449.0,117.5 L445.9,127.4 L449.7,135.2 L450.8,146.1 L451.9,158.7 L453.0,169.3 L454.5,182.0 L451.9,192.2 L450.1,200.3 L446.4,207.9 L443.1,220.8 L440.3,234.1 L442.9,244.5 L440.7,257.3 L456.4,270.2 L449.9,283.2 L444.3,296.5 L447.2,319.6" fill="none" stroke="#2e2e2e" stroke-width="1.0" stroke-linejoin="round" stroke-linecap="round"/>
<path d="M440.3,329 V323.8 H456.4 V329" fill="none" stroke="#222" stroke-width="1.1"/>
<text x="439.7" y="342" font-size="9.0" text-anchor="middle" stroke="#111" stroke-width="0.2">15</text>
<text x="455.8" y="342" font-size="9.0" text-anchor="middle" stroke="#111" stroke-width="0.2">40</text>
<text transform="translate(442.0,57.1) rotate(-45)" font-size="10.1">Dysoxic</text>
</g>
<g>
<path d="M480.2,65.6 L481.7,65.6 L484.1,75.9 L484.6,86.3 L490.5,96.6 L480.9,106.8 L486.7,117.5 L484.1,127.4 L481.3,135.2 L487.2,146.1 L488.5,158.7 L490.0,169.3 L492.2,182.0 L488.9,192.2 L488.5,200.3 L493.3,207.9 L492.6,220.8 L490.7,234.1 L487.8,244.5 L495.5,257.3 L492.1,270.2 L487.4,283.2 L496.3,296.5 L489.9,319.6 L480.2,319.6 Z" fill="#8ea6ea"/>
<line x1="480.2" y1="75.5" x2="483.6" y2="75.5" stroke="#a6afca" stroke-width="1"/>
<line x1="480.2" y1="86.5" x2="484.1" y2="86.5" stroke="#a6afca" stroke-width="1"/>
<line x1="480.2" y1="96.5" x2="490.0" y2="96.5" stroke="#a6afca" stroke-width="1"/>
<line x1="480.2" y1="117.5" x2="486.2" y2="117.5" stroke="#a6afca" stroke-width="1"/>
<line x1="480.2" y1="127.5" x2="483.6" y2="127.5" stroke="#a6afca" stroke-width="1"/>
<line x1="480.2" y1="146.5" x2="486.7" y2="146.5" stroke="#a6afca" stroke-width="1"/>
<line x1="480.2" y1="158.5" x2="488.0" y2="158.5" stroke="#a6afca" stroke-width="1"/>
<line x1="480.2" y1="169.5" x2="489.5" y2="169.5" stroke="#a6afca" stroke-width="1"/>
<line x1="480.2" y1="182.5" x2="491.7" y2="182.5" stroke="#a6afca" stroke-width="1"/>
<line x1="480.2" y1="192.5" x2="488.4" y2="192.5" stroke="#a6afca" stroke-width="1"/>
<line x1="480.2" y1="200.5" x2="488.0" y2="200.5" stroke="#a6afca" stroke-width="1"/>
<line x1="480.2" y1="207.5" x2="492.8" y2="207.5" stroke="#a6afca" stroke-width="1"/>
<line x1="480.2" y1="220.5" x2="492.1" y2="220.5" stroke="#a6afca" stroke-width="1"/>
<line x1="480.2" y1="234.5" x2="490.2" y2="234.5" stroke="#a6afca" stroke-width="1"/>
<line x1="480.2" y1="244.5" x2="487.3" y2="244.5" stroke="#a6afca" stroke-width="1"/>
<line x1="480.2" y1="257.5" x2="495.0" y2="257.5" stroke="#a6afca" stroke-width="1"/>
<line x1="480.2" y1="270.5" x2="491.6" y2="270.5" stroke="#a6afca" stroke-width="1"/>
<line x1="480.2" y1="283.5" x2="486.9" y2="283.5" stroke="#a6afca" stroke-width="1"/>
<line x1="480.2" y1="296.5" x2="495.8" y2="296.5" stroke="#a6afca" stroke-width="1"/>
<path d="M481.7,65.6 L484.1,75.9 L484.6,86.3 L490.5,96.6 L480.9,106.8 L486.7,117.5 L484.1,127.4 L481.3,135.2 L487.2,146.1 L488.5,158.7 L490.0,169.3 L492.2,182.0 L488.9,192.2 L488.5,200.3 L493.3,207.9 L492.6,220.8 L490.7,234.1 L487.8,244.5 L495.5,257.3 L492.1,270.2 L487.4,283.2 L496.3,296.5 L489.9,319.6" fill="none" stroke="#2e2e2e" stroke-width="1.0" stroke-linejoin="round" stroke-linecap="round"/>
<path d="M480.6,329 V323.8 H494.4 V329" fill="none" stroke="#222" stroke-width="1.1"/>
<text x="478.6" y="342" font-size="9.0" text-anchor="middle" stroke="#111" stroke-width="0.2">20</text>
<text x="494.4" y="342" font-size="9.0" text-anchor="middle" stroke="#111" stroke-width="0.2">40</text>
<text transform="translate(477.6,58.0) rotate(-45)" font-size="10.1">Oxic</text>
</g>
<g>
<path d="M520.1,65.6 L530.4,65.6 L536.9,75.9 L536.2,86.3 L534.3,96.6 L536.2,106.8 L531.4,117.5 L536.2,127.4 L535.8,135.2 L530.4,146.1 L527.1,158.7 L526.0,169.3 L521.2,182.0 L526.4,192.2 L527.5,200.3 L528.2,207.9 L531.4,220.8 L536.2,234.1 L535.2,244.5 L533.2,257.3 L520.1,270.2 L527.0,283.2 L527.0,296.5 L528.4,319.6 L520.1,319.6 Z" fill="#8ea6ea"/>
<line x1="520.1" y1="75.5" x2="536.4" y2="75.5" stroke="#a6afca" stroke-width="1"/>
<line x1="520.1" y1="86.5" x2="535.7" y2="86.5" stroke="#a6afca" stroke-width="1"/>
<line x1="520.1" y1="96.5" x2="533.8" y2="96.5" stroke="#a6afca" stroke-width="1"/>
<line x1="520.1" y1="106.5" x2="535.7" y2="106.5" stroke="#a6afca" stroke-width="1"/>
<line x1="520.1" y1="117.5" x2="530.9" y2="117.5" stroke="#a6afca" stroke-width="1"/>
<line x1="520.1" y1="127.5" x2="535.7" y2="127.5" stroke="#a6afca" stroke-width="1"/>
<line x1="520.1" y1="135.5" x2="535.3" y2="135.5" stroke="#a6afca" stroke-width="1"/>
<line x1="520.1" y1="146.5" x2="529.9" y2="146.5" stroke="#a6afca" stroke-width="1"/>
<line x1="520.1" y1="158.5" x2="526.6" y2="158.5" stroke="#a6afca" stroke-width="1"/>
<line x1="520.1" y1="169.5" x2="525.5" y2="169.5" stroke="#a6afca" stroke-width="1"/>
<line x1="520.1" y1="192.5" x2="525.9" y2="192.5" stroke="#a6afca" stroke-width="1"/>
<line x1="520.1" y1="200.5" x2="527.0" y2="200.5" stroke="#a6afca" stroke-width="1"/>
<line x1="520.1" y1="207.5" x2="527.7" y2="207.5" stroke="#a6afca" stroke-width="1"/>
<line x1="520.1" y1="220.5" x2="530.9" y2="220.5" stroke="#a6afca" stroke-width="1"/>
<line x1="520.1" y1="234.5" x2="535.7" y2="234.5" stroke="#a6afca" stroke-width="1"/>
<line x1="520.1" y1="244.5" x2="534.7" y2="244.5" stroke="#a6afca" stroke-width="1"/>
<line x1="520.1" y1="257.5" x2="532.7" y2="257.5" stroke="#a6afca" stroke-width="1"/>
<line x1="520.1" y1="283.5" x2="526.5" y2="283.5" stroke="#a6afca" stroke-width="1"/>
<line x1="520.1" y1="296.5" x2="526.5" y2="296.5" stroke="#a6afca" stroke-width="1"/>
<path d="M530.4,65.6 L536.9,75.9 L536.2,86.3 L534.3,96.6 L536.2,106.8 L531.4,117.5 L536.2,127.4 L535.8,135.2 L530.4,146.1 L527.1,158.7 L526.0,169.3 L521.2,182.0 L526.4,192.2 L527.5,200.3 L528.2,207.9 L531.4,220.8 L536.2,234.1 L535.2,244.5 L533.2,257.3 L520.1,270.2 L527.0,283.2 L527.0,296.5 L528.4,319.6" fill="none" stroke="#2e2e2e" stroke-width="1.0" stroke-linejoin="round" stroke-linecap="round"/>
<path d="M520.3,329 V323.8 H535.0 V329" fill="none" stroke="#222" stroke-width="1.1"/>
<text x="519.7" y="342" font-size="9.0" text-anchor="middle" stroke="#111" stroke-width="0.2">25</text>
<text x="535.0" y="342" font-size="9.0" text-anchor="middle" stroke="#111" stroke-width="0.2">50</text>
<text transform="translate(522.0,57.9) rotate(-45)" font-size="10.1">Suboxic</text>
</g>
</svg></body></html>
